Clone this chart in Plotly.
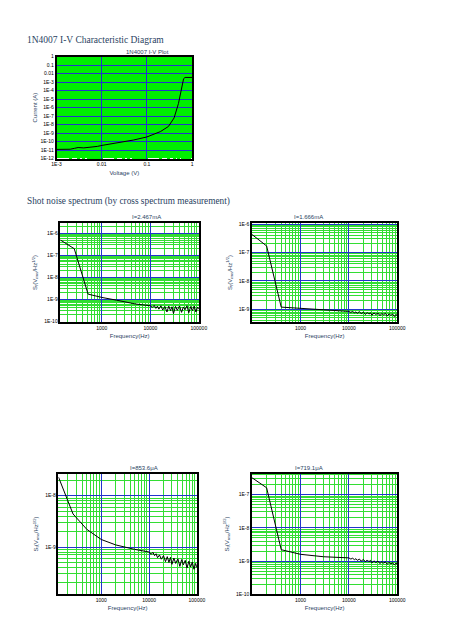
import math
import plotly.graph_objects as go

W, H = 452, 640
OFF = 8  # page body margin
FW, FH = W - 2 * OFF, H - 2 * OFF


def px(x):
    return (x - OFF) / FW


def py(y):
    return 1 - (y - OFF) / FH


# I-V data
iv_v = [0.001, 0.0015, 0.002, 0.0025, 0.003, 0.004, 0.005, 0.006, 0.008, 0.01, 0.02, 0.05, 0.1,
        0.2, 0.3, 0.4, 0.5, 0.6, 0.65, 0.7, 1.0]
iv_i = [1.2e-11, 1.2e-11, 1.25e-11, 1.6e-11, 2.0e-11, 1.8e-11, 2.0e-11, 2.5e-11, 2.7e-11, 3.5e-11,
        6e-11, 1.5e-10, 3.5e-10, 1.5e-9, 6e-9, 6e-8, 3e-6, 3e-4, 2.5e-3, 3.5e-3, 3.5e-3]

# shot noise spectra: smooth head + noisy tail
tail_f = [10000, 11000, 12000, 13000, 14000, 15000, 16500, 18000, 20000, 22000, 24000, 26000, 28000, 30000,
          33000, 36000, 40000, 44000, 48000, 52000, 57000, 62000, 68000, 74000, 80000, 87000, 94000, 100000]

p1_f = [140, 270, 520, 1000, 2000, 5000]
p1_s = [5e-7, 2e-7, 1.7e-9, 1.2e-9, 9e-10, 6e-10]
p1_t = [5e-10, 4.2e-10, 5.2e-10, 3.8e-10, 4.8e-10, 3.5e-10, 5e-10, 3.2e-10, 4.6e-10, 2.6e-10, 4.8e-10, 3e-10,
        4.5e-10, 2.2e-10, 4.7e-10, 3.1e-10, 4.9e-10, 2.5e-10, 4.4e-10, 3.3e-10, 5e-10, 2.4e-10, 4.6e-10,
        3e-10, 4.8e-10, 2.6e-10, 4.3e-10, 3.5e-10]

p2_f = [100, 200, 400, 1000, 3000]
p2_s = [4.3e-7, 1.7e-7, 1.2e-9, 1.1e-9, 9.5e-10]
p2_t = [8.5e-10, 7.8e-10, 8.6e-10, 7.4e-10, 8.2e-10, 7.2e-10, 8.4e-10, 7e-10, 8e-10, 6.6e-10, 7.8e-10, 6.8e-10,
        7.6e-10, 6.2e-10, 7.5e-10, 6.6e-10, 7.4e-10, 6e-10, 7.2e-10, 6.4e-10, 7.3e-10, 5.8e-10, 7e-10,
        6.1e-10, 6.9e-10, 5.6e-10, 6.6e-10, 6e-10]

p3_f = [127, 256, 500, 1000, 2000, 5000]
p3_s = [2.3e-8, 4.4e-9, 2.2e-9, 1.4e-9, 1.1e-9, 9e-10]
p3_t = [8e-10, 7.2e-10, 7.9e-10, 6.8e-10, 7.4e-10, 6.2e-10, 7e-10, 5.8e-10, 6.8e-10, 5.2e-10, 6.5e-10, 5e-10,
        6.3e-10, 4.6e-10, 6.1e-10, 4.8e-10, 5.9e-10, 4.2e-10, 5.7e-10, 4.5e-10, 5.5e-10, 3.9e-10, 5.3e-10,
        4.1e-10, 5.1e-10, 3.7e-10, 4.8e-10, 4e-10]

p4_f = [100, 200, 400, 1000, 3000]
p4_s = [3.2e-7, 1.6e-7, 2.2e-9, 1.6e-9, 1.35e-9]
p4_t = [1.25e-9, 1.15e-9, 1.22e-9, 1.1e-9, 1.18e-9, 1.05e-9, 1.15e-9, 1e-9, 1.12e-9, 9.5e-10, 1.08e-9, 9.6e-10,
        1.05e-9, 8.8e-10, 1.02e-9, 9e-10, 1e-9, 8.4e-10, 9.7e-10, 8.6e-10, 9.5e-10, 8e-10, 9.2e-10,
        8.2e-10, 9e-10, 7.6e-10, 8.7e-10, 8e-10]

titles = ["I=2.467mA", "I=1.666mA", "I=853.6\u03bcA", "I=719.1\u03bcA"]
f_ticks = [1000, 10000, 100000]
f_text = ["1000", "10000", "100000"]

# pixel boxes: x0, x1, y0(top), y1(bottom), f-range, s-range
boxes = [
    (57, 200, 222, 322, (140, 100000), (1e-10 / 1.1, 3e-6)),
    (255, 405, 222, 322, (100, 100000), (3.6e-10, 1.1e-6)),
    (55, 198, 475, 597, (127, 100000), (1.2e-10, 2.7e-8)),
    (255, 405, 475, 597, (100, 100000), (1e-10, 4.3e-7)),
]
heads = [(p1_f, p1_s, p1_t), (p2_f, p2_s, p2_t), (p3_f, p3_s, p3_t), (p4_f, p4_s, p4_t)]

fig = go.Figure()
font = dict(family="Liberation Sans", size=5, color="black")


def ax_common():
    return dict(type="log", showline=True, linecolor="black", linewidth=1.5, mirror=True,
                showgrid=True, gridcolor="#2233cc", gridwidth=1,
                minor=dict(showgrid=True, gridcolor="#33dd33", gridwidth=0.8, dtick="D1"),
                ticks="", tickfont=font, zeroline=False)


# I-V plot
fig.add_trace(go.Scatter(x=iv_v, y=iv_i, mode="lines", line=dict(color="black", width=1),
                         xaxis="x", yaxis="y", showlegend=False))
ax = ax_common()
ax["minor"] = dict(showgrid=True, gridcolor="#00ee00", gridwidth=2.5, dtick="D1")
fig.update_layout(
    xaxis=dict(ax, domain=[px(53), px(193)], anchor="y", range=[-3, 0],
               tickvals=[0.001, 0.01, 0.1, 1], ticktext=["1E-3", "0.01", "0.1", "1"],
               title=dict(text="Voltage (V)", font=dict(family="Liberation Sans", size=6), standoff=4)),
    yaxis=dict(ax, domain=[py(157), py(54)], anchor="x", range=[-12, 0],
               tickvals=[10 ** -k for k in range(13)],
               ticktext=["1", "0.1", "0.01", "1E-3"] + ["1E-%d" % k for k in range(4, 13)],
               title=dict(text="Current (A)", font=dict(family="Liberation Sans", size=6), standoff=2)),
)

for i, ((x0, x1, y0, y1, fr, sr), (hf, hs, ht)) in enumerate(zip(boxes, heads)):
    n = i + 2
    xa, ya = "x%d" % n, "y%d" % n
    fig.add_trace(go.Scatter(x=hf + tail_f, y=hs + ht, mode="lines", line=dict(color="black", width=1),
                             xaxis=xa, yaxis=ya, showlegend=False))
    lo, hi = math.log10(sr[0]), math.log10(sr[1])
    yt = [10 ** -k for k in range(5, 12) if lo <= -k <= hi]
    fig.layout["xaxis%d" % n] = dict(ax_common(), domain=[px(x0), px(x1)], anchor=ya,
                                     range=[math.log10(fr[0]), math.log10(fr[1])],
                                     tickvals=f_ticks, ticktext=f_text,
                                     title=dict(text="Frequency(Hz)", font=dict(family="Liberation Sans", size=6), standoff=4))
    fig.layout["yaxis%d" % n] = dict(ax_common(), domain=[py(y1), py(y0)], anchor=xa,
                                     range=[lo, hi], tickvals=yt,
                                     ticktext=["1E-%d" % round(-math.log10(v)) for v in yt],
                                     title=dict(text="S<sub>I</sub>(V<sub>rms</sub>/Hz<sup>1/2</sup>)",
                                                font=dict(family="Liberation Sans", size=6), standoff=6))
    fig.add_annotation(text=titles[i], x=px((x0 + x1) / 2), y=py(y0 - 1), xref="paper", yref="paper",
                       yanchor="bottom", showarrow=False, font=dict(family="Liberation Sans", size=6))

fig.add_annotation(text="1N4007 I-V Plot", x=px(123), y=py(54.5), xref="paper", yref="paper",
                   yanchor="bottom", showarrow=False, font=dict(family="Liberation Sans", size=6))
fig.add_annotation(text="1N4007 I-V Characteristic Diagram", x=px(20), y=py(30), xref="paper", yref="paper",
                   xanchor="left", showarrow=False, font=dict(family="Liberation Serif", size=9.5))
fig.add_annotation(text="Shot noise spectrum (by cross spectrum measurement)", x=px(20), y=py(193),
                   xref="paper", yref="paper", xanchor="left", showarrow=False,
                   font=dict(family="Liberation Serif", size=9.3))

fig.update_layout(width=FW, height=FH, margin=dict(l=0, r=0, t=0, b=0),
                  paper_bgcolor="white", plot_bgcolor="white")
fig.write_html("out.html")
